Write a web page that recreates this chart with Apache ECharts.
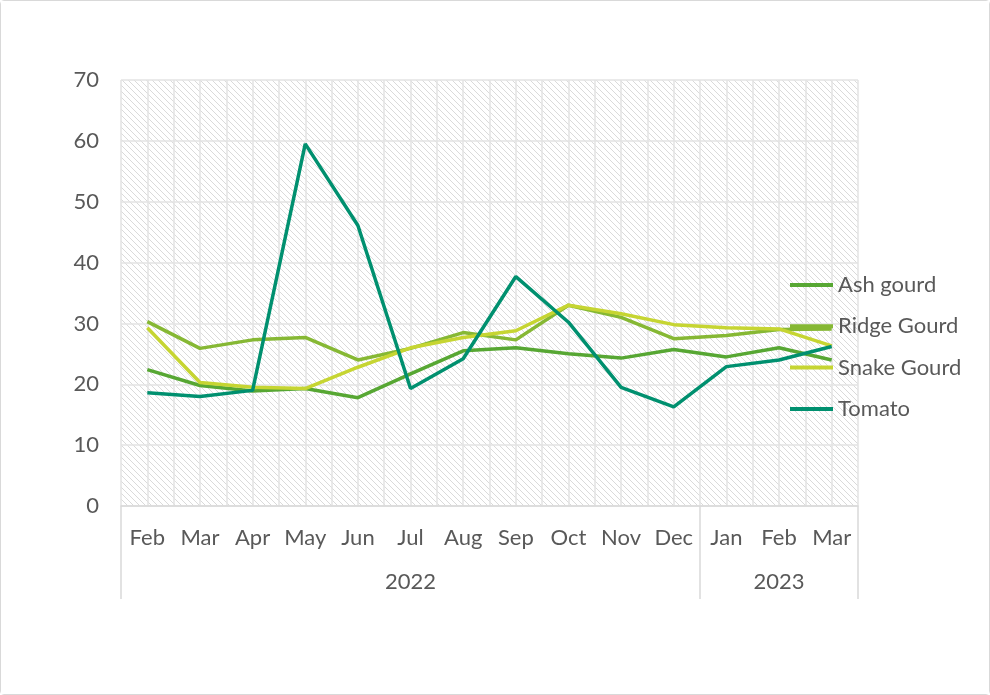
<!DOCTYPE html>
<html>
<head>
<meta charset="utf-8">
<script src="https://cdn.jsdelivr.net/npm/echarts@6/dist/echarts.min.js"></script>
<style>
  html, body { margin: 0; padding: 0; background: #fff; }
  #wrap { width: 990px; height: 695px; box-sizing: border-box; border: 1.5px solid #d9d9d9; border-radius: 4px; background: #fff; }
  #chart { width: 100%; height: 100%; }
</style>
</head>
<body>
<div id="wrap"><div id="chart"></div></div>
<script>
const months = ['Feb','Mar','Apr','May','Jun','Jul','Aug','Sep','Oct','Nov','Dec','Jan','Feb','Mar'];
const yearGroups = ['2022', '2023'];
const yearSpans = [11, 3];
const yTicks = [0, 10, 20, 30, 40, 50, 60, 70];

const seriesNames = ['Ash gourd', 'Ridge Gourd', 'Snake Gourd', 'Tomato'];
const ashGourd   = [22.4, 19.8, 18.9, 19.3, 17.8, 21.7, 25.5, 26.0, 25.0, 24.3, 25.7, 24.5, 26.0, 24.0];
const ridgeGourd = [30.3, 25.9, 27.3, 27.7, 24.0, 25.9, 28.5, 27.3, 33.0, 31.0, 27.5, 28.0, 29.0, 29.1];
const snakeGourd = [29.3, 20.3, 19.5, 19.3, 22.8, 26.0, 27.7, 28.8, 33.0, 31.6, 29.8, 29.3, 29.1, 26.3];
const tomato     = [18.6, 18.0, 19.0, 59.5, 46.1, 19.3, 24.2, 37.7, 30.2, 19.5, 16.3, 22.9, 24.0, 26.2];
const colors = ['#57a733', '#86b834', '#c6d532', '#00906f'];

// year axis labels placed at the middle category of each group
const yearLabels = months.map(() => '');
const groupStarts = [];
let start = 0;
yearGroups.forEach((y, i) => {
  groupStarts.push(start);
  yearLabels[start + Math.floor(yearSpans[i] / 2)] = y;
  start += yearSpans[i];
});

// hatch pattern
const P = 6;
const pc = document.createElement('canvas');
pc.width = P; pc.height = P;
const pctx = pc.getContext('2d');
pctx.fillStyle = '#ffffff';
pctx.fillRect(0, 0, P, P);
pctx.fillStyle = '#dadada';
for (let i = 0; i < P; i++) pctx.fillRect(i, i, 1, 1);

const textColor = '#595959';
const fontFamily = 'Lato, "Open Sans", sans-serif';

const chart = echarts.init(document.getElementById('chart'), null, { renderer: 'canvas' });
chart.setOption({
  animation: false,
  backgroundColor: '#ffffff',
  textStyle: { fontFamily: fontFamily },
  grid: {
    left: 120, right: 131, top: 79, bottom: 188,
    show: true, borderWidth: 0,
    backgroundColor: { image: pc, repeat: 'repeat' }
  },
  legend: {
    orient: 'vertical',
    left: 789, top: 273, padding: 0,
    itemWidth: 43, itemHeight: 14, itemGap: 19.3,
    icon: 'path://M0,5 L43,5 L43,9 L0,9 Z',
    textStyle: { color: textColor, fontSize: 22, fontFamily: fontFamily, lineHeight: 22 },
    data: seriesNames
  },
  xAxis: [
    {
      type: 'category', data: months, position: 'bottom', boundaryGap: true,
      axisLine: { show: true, lineStyle: { color: '#d9d9d9', width: 1.5 } },
      axisTick: { show: false },
      axisLabel: { color: textColor, fontSize: 22, margin: 21, lineHeight: 22, interval: 0, fontFamily: fontFamily },
      splitLine: { show: false }
    },
    {
      type: 'category', data: yearLabels, position: 'bottom', boundaryGap: true,
      axisLine: { show: false },
      axisTick: {
        show: true, length: 93, inside: false,
        interval: (idx) => groupStarts.indexOf(idx) >= 0,
        lineStyle: { color: '#d9d9d9', width: 1.5 }
      },
      axisLabel: { color: textColor, fontSize: 22, margin: 65, lineHeight: 22, interval: 0, fontFamily: fontFamily },
      splitLine: { show: false }
    },
    {
      type: 'value', position: 'top', min: 0, max: months.length * 2, interval: 1,
      axisLine: { show: false }, axisTick: { show: false }, axisLabel: { show: false },
      splitLine: { show: true, lineStyle: { color: '#e3e3e3', width: 1.5 } }
    }
  ],
  yAxis: {
    type: 'value', min: yTicks[0], max: yTicks[yTicks.length - 1], interval: yTicks[1] - yTicks[0],
    axisLine: { show: false }, axisTick: { show: false },
    axisLabel: { color: textColor, fontSize: 22, margin: 22, fontFamily: fontFamily },
    splitLine: { show: true, lineStyle: { color: '#e3e3e3', width: 1.5 } }
  },
  series: [ashGourd, ridgeGourd, snakeGourd, tomato].map((d, i) => ({
    name: seriesNames[i], type: 'line', data: d, xAxisIndex: 0,
    symbol: 'none', smooth: false,
    lineStyle: { color: colors[i], width: 3.5 },
    itemStyle: { color: colors[i] },
    z: 2 + i
  }))
});
</script>
</body>
</html>
